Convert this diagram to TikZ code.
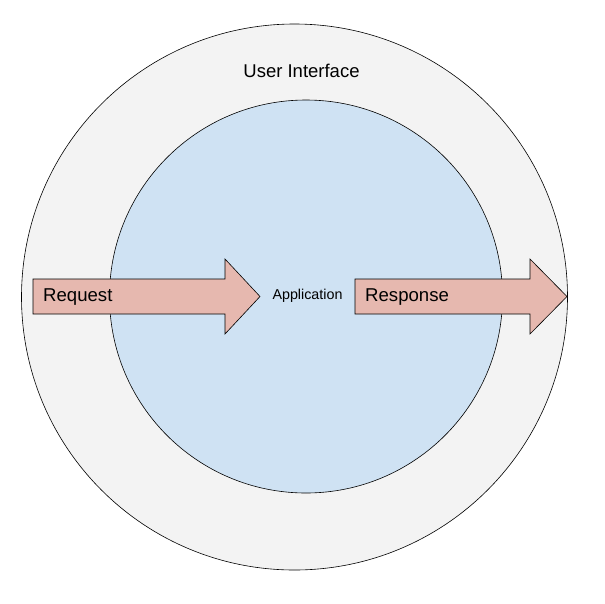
\documentclass[tikz,border=0pt]{standalone}
\usepackage{fontspec}
\setmainfont{Liberation Sans}
\definecolor{uifill}{HTML}{F3F3F3}
\definecolor{appfill}{HTML}{CFE2F3}
\definecolor{flowfill}{HTML}{E6B8AF}
\begin{document}
\begin{tikzpicture}[
    x=1pt, y=-1pt,
    ring/.style={draw=black, line width=0.6pt},
    flowarrow/.style={draw=black, fill=flowfill, line width=0.6pt},
    lbl/.style={inner sep=0, font=\fontsize{18.6}{22}\selectfont}
]
\useasboundingbox (0,0) rectangle (605,603);
% rings
\draw[ring, fill=uifill] (294.5,297) circle (273);
\draw[ring, fill=appfill] (306,296.5) circle (196.5);
% arrows
\draw[flowarrow] (33,279) -- (225,279) -- (225,259) -- (260,296.5) -- (225,334)
    -- (225,314) -- (33,314) -- cycle;
\draw[flowarrow] (355,279) -- (530,279) -- (530,259) -- (567,296.5) -- (530,334)
    -- (530,314) -- (355,314) -- cycle;
% labels
\node[lbl, font=\fontsize{18.5}{22}\selectfont] (ui) at (301.5,71) {User Interface};
\node[lbl, anchor=west] (req) at (43,297) {Request};
\node[lbl, anchor=west] (resp) at (365,297) {Response};
\node[lbl, font=\fontsize{14.3}{17}\selectfont] (app) at (307.5,296) {Application};
\end{tikzpicture}
\end{document}
